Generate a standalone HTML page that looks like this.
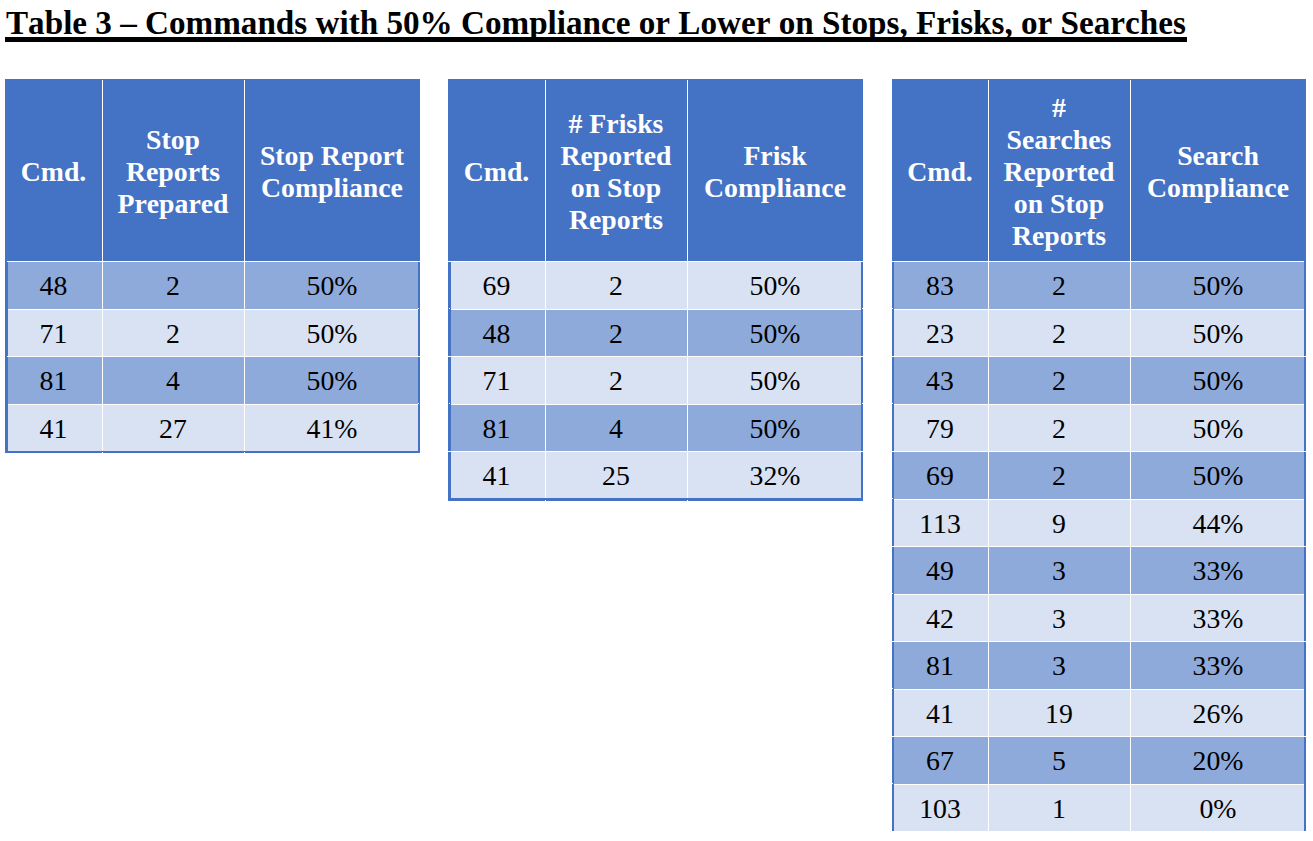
<!DOCTYPE html>
<html><head><meta charset="utf-8"><title>Table 3</title>
<style>
html,body{margin:0;padding:0;background:#fff;}
body{width:1313px;height:841px;position:relative;overflow:hidden;font-family:"Liberation Serif",serif;color:#000;font-kerning:none;}
.t{position:absolute;left:6px;top:3px;font-weight:bold;font-size:33.17px;line-height:40px;white-space:nowrap;}
.u{position:absolute;left:5px;top:37px;width:1182px;height:4.5px;background:#000;}
.c{position:absolute;display:flex;align-items:center;justify-content:center;text-align:center;}
.c span{position:relative;display:block;}
.h{background:#4472C4;color:#fff;font-weight:bold;font-size:27.78px;line-height:32px;}
.h span{top:1.8px;}
.d{font-size:27.78px;line-height:32px;}
.d span{top:1.0px;}
.dk{background:#8EAADB;}
.lt{background:#D9E2F3;}
.b{position:absolute;background:#4472C4;}
.w{position:absolute;background:#fff;}
</style></head><body>
<div class="t">Table 3 – Commands with 50% Compliance or Lower on Stops, Frisks, or Searches</div><div class="u"></div>

<div class="c h" style="left:5px;top:79px;width:97px;height:182px"><span>Cmd.</span></div>
<div class="c h" style="left:102px;top:79px;width:142px;height:182px"><span>Stop<br>Reports<br>Prepared</span></div>
<div class="c h" style="left:244px;top:79px;width:176px;height:182px"><span>Stop Report<br>Compliance</span></div>
<div class="c d dk" style="left:5px;top:261px;width:97px;height:48px"><span>48</span></div>
<div class="c d dk" style="left:102px;top:261px;width:142px;height:48px"><span>2</span></div>
<div class="c d dk" style="left:244px;top:261px;width:176px;height:48px"><span>50%</span></div>
<div class="c d lt" style="left:5px;top:309px;width:97px;height:47px"><span>71</span></div>
<div class="c d lt" style="left:102px;top:309px;width:142px;height:47px"><span>2</span></div>
<div class="c d lt" style="left:244px;top:309px;width:176px;height:47px"><span>50%</span></div>
<div class="c d dk" style="left:5px;top:356px;width:97px;height:48px"><span>81</span></div>
<div class="c d dk" style="left:102px;top:356px;width:142px;height:48px"><span>4</span></div>
<div class="c d dk" style="left:244px;top:356px;width:176px;height:48px"><span>50%</span></div>
<div class="c d lt" style="left:5px;top:404px;width:97px;height:47px"><span>41</span></div>
<div class="c d lt" style="left:102px;top:404px;width:142px;height:47px"><span>27</span></div>
<div class="c d lt" style="left:244px;top:404px;width:176px;height:47px"><span>41%</span></div>
<div class="b" style="left:5px;top:261px;width:3px;height:190px"></div>
<div class="b" style="left:418px;top:261px;width:2px;height:190px"></div>
<div class="b" style="left:5px;top:451px;width:415px;height:2px"></div>
<div class="w" style="left:7px;top:261px;width:413px;height:1px"></div>
<div class="w" style="left:8px;top:309px;width:410px;height:1px"></div>
<div class="w" style="left:418px;top:308px;width:1px;height:1px"></div>
<div class="w" style="left:7px;top:356px;width:413px;height:1px"></div>
<div class="w" style="left:8px;top:404px;width:410px;height:1px"></div>
<div class="w" style="left:418px;top:403px;width:1px;height:1px"></div>
<div class="w" style="left:102px;top:80px;width:1px;height:371px"></div>
<div class="w" style="left:102px;top:452px;width:1px;height:1px"></div>
<div class="w" style="left:244px;top:80px;width:1px;height:371px"></div>
<div class="w" style="left:244px;top:452px;width:1px;height:1px"></div>
<div class="c h" style="left:448px;top:79px;width:97px;height:182px"><span>Cmd.</span></div>
<div class="c h" style="left:545px;top:79px;width:142px;height:182px"><span># Frisks<br>Reported<br>on Stop<br>Reports</span></div>
<div class="c h" style="left:687px;top:79px;width:176px;height:182px"><span>Frisk<br>Compliance</span></div>
<div class="c d lt" style="left:448px;top:261px;width:97px;height:48px"><span>69</span></div>
<div class="c d lt" style="left:545px;top:261px;width:142px;height:48px"><span>2</span></div>
<div class="c d lt" style="left:687px;top:261px;width:176px;height:48px"><span>50%</span></div>
<div class="c d dk" style="left:448px;top:309px;width:97px;height:47px"><span>48</span></div>
<div class="c d dk" style="left:545px;top:309px;width:142px;height:47px"><span>2</span></div>
<div class="c d dk" style="left:687px;top:309px;width:176px;height:47px"><span>50%</span></div>
<div class="c d lt" style="left:448px;top:356px;width:97px;height:48px"><span>71</span></div>
<div class="c d lt" style="left:545px;top:356px;width:142px;height:48px"><span>2</span></div>
<div class="c d lt" style="left:687px;top:356px;width:176px;height:48px"><span>50%</span></div>
<div class="c d dk" style="left:448px;top:404px;width:97px;height:47px"><span>81</span></div>
<div class="c d dk" style="left:545px;top:404px;width:142px;height:47px"><span>4</span></div>
<div class="c d dk" style="left:687px;top:404px;width:176px;height:47px"><span>50%</span></div>
<div class="c d lt" style="left:448px;top:451px;width:97px;height:48px"><span>41</span></div>
<div class="c d lt" style="left:545px;top:451px;width:142px;height:48px"><span>25</span></div>
<div class="c d lt" style="left:687px;top:451px;width:176px;height:48px"><span>32%</span></div>
<div class="b" style="left:448px;top:261px;width:3px;height:238px"></div>
<div class="b" style="left:861px;top:261px;width:2px;height:238px"></div>
<div class="b" style="left:448px;top:498px;width:415px;height:3px"></div>
<div class="w" style="left:448px;top:261px;width:415px;height:1px"></div>
<div class="w" style="left:451px;top:309px;width:410px;height:1px"></div>
<div class="w" style="left:449px;top:308px;width:1px;height:1px"></div>
<div class="w" style="left:862px;top:308px;width:1px;height:1px"></div>
<div class="w" style="left:448px;top:356px;width:415px;height:1px"></div>
<div class="w" style="left:451px;top:404px;width:410px;height:1px"></div>
<div class="w" style="left:449px;top:403px;width:1px;height:1px"></div>
<div class="w" style="left:862px;top:403px;width:1px;height:1px"></div>
<div class="w" style="left:448px;top:451px;width:415px;height:1px"></div>
<div class="w" style="left:545px;top:80px;width:1px;height:418px"></div>
<div class="w" style="left:545px;top:500px;width:1px;height:1px"></div>
<div class="w" style="left:687px;top:80px;width:1px;height:418px"></div>
<div class="w" style="left:687px;top:500px;width:1px;height:1px"></div>
<div class="c h" style="left:892px;top:79px;width:96px;height:182px"><span>Cmd.</span></div>
<div class="c h" style="left:988px;top:79px;width:142px;height:182px"><span>#<br>Searches<br>Reported<br>on Stop<br>Reports</span></div>
<div class="c h" style="left:1130px;top:79px;width:176px;height:182px"><span>Search<br>Compliance</span></div>
<div class="c d dk" style="left:892px;top:261px;width:96px;height:48px"><span>83</span></div>
<div class="c d dk" style="left:988px;top:261px;width:142px;height:48px"><span>2</span></div>
<div class="c d dk" style="left:1130px;top:261px;width:176px;height:48px"><span>50%</span></div>
<div class="c d lt" style="left:892px;top:309px;width:96px;height:47px"><span>23</span></div>
<div class="c d lt" style="left:988px;top:309px;width:142px;height:47px"><span>2</span></div>
<div class="c d lt" style="left:1130px;top:309px;width:176px;height:47px"><span>50%</span></div>
<div class="c d dk" style="left:892px;top:356px;width:96px;height:48px"><span>43</span></div>
<div class="c d dk" style="left:988px;top:356px;width:142px;height:48px"><span>2</span></div>
<div class="c d dk" style="left:1130px;top:356px;width:176px;height:48px"><span>50%</span></div>
<div class="c d lt" style="left:892px;top:404px;width:96px;height:47px"><span>79</span></div>
<div class="c d lt" style="left:988px;top:404px;width:142px;height:47px"><span>2</span></div>
<div class="c d lt" style="left:1130px;top:404px;width:176px;height:47px"><span>50%</span></div>
<div class="c d dk" style="left:892px;top:451px;width:96px;height:48px"><span>69</span></div>
<div class="c d dk" style="left:988px;top:451px;width:142px;height:48px"><span>2</span></div>
<div class="c d dk" style="left:1130px;top:451px;width:176px;height:48px"><span>50%</span></div>
<div class="c d lt" style="left:892px;top:499px;width:96px;height:47px"><span>113</span></div>
<div class="c d lt" style="left:988px;top:499px;width:142px;height:47px"><span>9</span></div>
<div class="c d lt" style="left:1130px;top:499px;width:176px;height:47px"><span>44%</span></div>
<div class="c d dk" style="left:892px;top:546px;width:96px;height:48px"><span>49</span></div>
<div class="c d dk" style="left:988px;top:546px;width:142px;height:48px"><span>3</span></div>
<div class="c d dk" style="left:1130px;top:546px;width:176px;height:48px"><span>33%</span></div>
<div class="c d lt" style="left:892px;top:594px;width:96px;height:47px"><span>42</span></div>
<div class="c d lt" style="left:988px;top:594px;width:142px;height:47px"><span>3</span></div>
<div class="c d lt" style="left:1130px;top:594px;width:176px;height:47px"><span>33%</span></div>
<div class="c d dk" style="left:892px;top:641px;width:96px;height:48px"><span>81</span></div>
<div class="c d dk" style="left:988px;top:641px;width:142px;height:48px"><span>3</span></div>
<div class="c d dk" style="left:1130px;top:641px;width:176px;height:48px"><span>33%</span></div>
<div class="c d lt" style="left:892px;top:689px;width:96px;height:47px"><span>41</span></div>
<div class="c d lt" style="left:988px;top:689px;width:142px;height:47px"><span>19</span></div>
<div class="c d lt" style="left:1130px;top:689px;width:176px;height:47px"><span>26%</span></div>
<div class="c d dk" style="left:892px;top:736px;width:96px;height:48px"><span>67</span></div>
<div class="c d dk" style="left:988px;top:736px;width:142px;height:48px"><span>5</span></div>
<div class="c d dk" style="left:1130px;top:736px;width:176px;height:48px"><span>20%</span></div>
<div class="c d lt" style="left:892px;top:784px;width:96px;height:47px"><span>103</span></div>
<div class="c d lt" style="left:988px;top:784px;width:142px;height:47px"><span>1</span></div>
<div class="c d lt" style="left:1130px;top:784px;width:176px;height:47px"><span>0%</span></div>
<div class="b" style="left:892px;top:261px;width:2px;height:570px"></div>
<div class="b" style="left:1304px;top:261px;width:2px;height:570px"></div>
<div class="w" style="left:892px;top:261px;width:412px;height:1px"></div>
<div class="w" style="left:894px;top:309px;width:410px;height:1px"></div>
<div class="w" style="left:892px;top:308px;width:1px;height:1px"></div>
<div class="w" style="left:892px;top:356px;width:414px;height:1px"></div>
<div class="w" style="left:894px;top:404px;width:410px;height:1px"></div>
<div class="w" style="left:892px;top:403px;width:1px;height:1px"></div>
<div class="w" style="left:892px;top:451px;width:414px;height:1px"></div>
<div class="w" style="left:894px;top:499px;width:410px;height:1px"></div>
<div class="w" style="left:892px;top:498px;width:1px;height:1px"></div>
<div class="w" style="left:892px;top:546px;width:414px;height:1px"></div>
<div class="w" style="left:894px;top:594px;width:410px;height:1px"></div>
<div class="w" style="left:892px;top:593px;width:1px;height:1px"></div>
<div class="w" style="left:892px;top:641px;width:414px;height:1px"></div>
<div class="w" style="left:894px;top:689px;width:410px;height:1px"></div>
<div class="w" style="left:892px;top:688px;width:1px;height:1px"></div>
<div class="w" style="left:892px;top:736px;width:414px;height:1px"></div>
<div class="w" style="left:894px;top:784px;width:410px;height:1px"></div>
<div class="w" style="left:892px;top:783px;width:1px;height:1px"></div>
<div class="w" style="left:988px;top:80px;width:1px;height:751px"></div>
<div class="w" style="left:1130px;top:80px;width:1px;height:751px"></div>
</body></html>
